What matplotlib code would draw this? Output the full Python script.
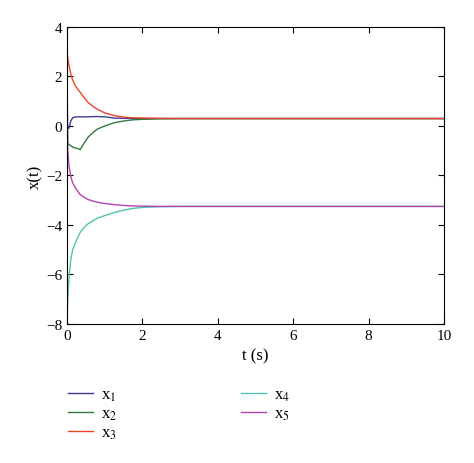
import matplotlib
matplotlib.use('Agg')
import matplotlib.pyplot as plt

# time samples (s)
t = [0, 0.02, 0.05, 0.1, 0.15, 0.2, 0.3, 0.35, 0.45, 0.56, 0.7, 0.8,
     1.0, 1.25, 1.5, 1.75, 2.0, 2.5, 3.0, 4.0, 10.0]

x1 = [0.0, -0.05, -0.1, 0.2, 0.33, 0.36, 0.37, 0.37, 0.37, 0.37, 0.38, 0.38,
      0.37, 0.32, 0.31, 0.30, 0.30, 0.30, 0.30, 0.30, 0.30]
x2 = [2.0, -0.7, -0.75, -0.8, -0.85, -0.88, -0.92, -0.95, -0.7, -0.45, -0.25, -0.13,
      0.0, 0.13, 0.2, 0.25, 0.27, 0.29, 0.3, 0.3, 0.3]
x3 = [3.0, 2.75, 2.45, 2.1, 1.85, 1.68, 1.45, 1.36, 1.15, 0.95, 0.78, 0.68,
      0.53, 0.42, 0.36, 0.33, 0.32, 0.31, 0.3, 0.3, 0.3]
x4 = [-8.0, -7.0, -6.2, -5.4, -5.0, -4.8, -4.45, -4.3, -4.1, -3.95, -3.82, -3.73,
      -3.62, -3.5, -3.4, -3.33, -3.29, -3.26, -3.25, -3.25, -3.25]
x5 = [0.0, -1.0, -1.6, -2.05, -2.3, -2.45, -2.67, -2.77, -2.88, -2.97, -3.04, -3.08,
      -3.13, -3.18, -3.21, -3.23, -3.24, -3.25, -3.25, -3.25, -3.25]

series = [x1, x2, x3, x4, x5]
labels = ['x$_1$', 'x$_2$', 'x$_3$', 'x$_4$', 'x$_5$']
colors = ['#3c3c96', '#2f7a3c', '#ec4428', '#50c4b0', '#b044b0']

plt.rcParams['font.family'] = ['Liberation Serif']
plt.rcParams['mathtext.fontset'] = 'stix'

fig = plt.figure(figsize=(4.74, 4.64), dpi=100)
ax = fig.add_axes([0.1414, 0.2996, 0.7954, 0.6401])

lines = []
for y, lab, c in zip(series, labels, colors):
    ln, = ax.plot(t, y, color=c, lw=1.0, label=lab)
    lines.append(ln)

ax.set_xlim(0, 10)
ax.set_ylim(-8, 4)
ax.set_xticks([0, 2, 4, 6, 8, 10])
ax.set_yticks([-8, -6, -4, -2, 0, 2, 4])
ax.tick_params(direction='in', top=True, right=True, labelsize=11, length=4)
ax.set_xlabel('t (s)', fontsize=12, labelpad=4)
ax.set_ylabel('x(t)', fontsize=12, labelpad=2)

# legend below the axes: x1..x3 in the left column, x4, x5 in the right
fig.legend(handles=lines, labels=labels, loc='upper left', ncol=2,
           bbox_to_anchor=(0.112, 0.197), frameon=False, fontsize=12,
           handlelength=1.5, columnspacing=7.4, labelspacing=0.15,
           handletextpad=0.5)

fig.savefig('out.png', dpi=100)
